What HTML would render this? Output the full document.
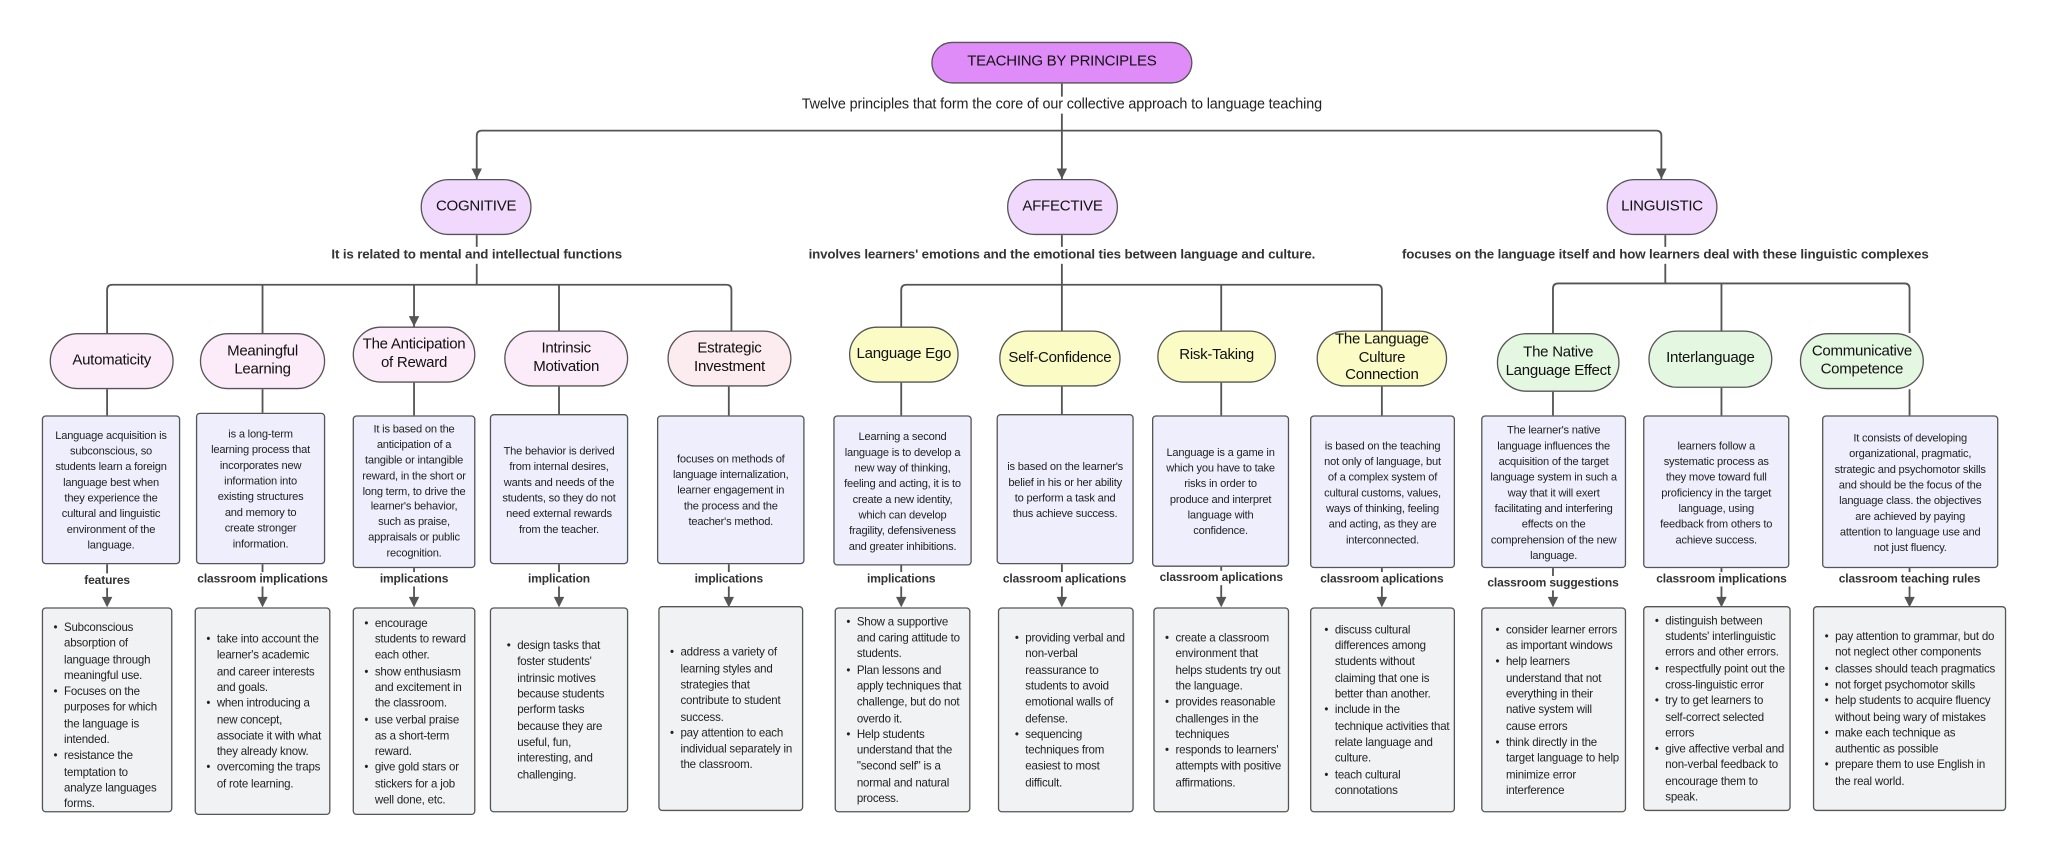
<!DOCTYPE html>
<html><head><meta charset="utf-8">
<style>
html,body{margin:0;padding:0;background:#fff;}
body{width:2048px;height:857px;overflow:hidden;position:relative;font-family:"Liberation Sans",Arial,sans-serif;color:#222;}
#c{position:absolute;left:0;top:0;width:1568px;height:656px;transform:scale(1.30612);transform-origin:0 0;}
.p{position:absolute;box-sizing:border-box;border:1.5px solid #555;border-radius:24px;display:flex;align-items:center;justify-content:center;text-align:center;font-size:11.5px;line-height:13.5px;color:#111;letter-spacing:-0.2px;}
.cog{background:#fcebf8}.aff{background:#fbfbc6}.lin{background:#e4f7e1}.cat{background:#f0d9fc}
.d{position:absolute;box-sizing:border-box;border:1.5px solid #555;border-radius:3px;background:#eeeefc;display:flex;align-items:center;justify-content:center;text-align:center;font-size:8.5px;line-height:12px;padding:0 5px;color:#222;letter-spacing:-0.15px;}
.t{position:absolute;box-sizing:border-box;border:1.5px solid #555;border-radius:3px;background:#f1f2f4;display:flex;align-items:center;font-size:8.8px;line-height:12.3px;padding:0 3px 0 6px;color:#222;letter-spacing:-0.15px;}
.t ul{margin:0;padding:0 0 0 10px;list-style:none;}
.t li{margin:0;padding:0;position:relative;}
.t li:before{content:"•";position:absolute;left:-8px;top:0;}
.l{position:absolute;transform:translateX(-50%);white-space:nowrap;font-size:9.2px;font-weight:bold;color:#333;background:#fff;padding:0 1px;line-height:11px;letter-spacing:-0.1px;}
.s{position:absolute;transform:translateX(-50%);white-space:nowrap;font-size:10.2px;font-weight:bold;color:#333;background:#fff;line-height:13px;padding:0 2px;letter-spacing:-0.1px;}
svg{position:absolute;left:0;top:0;}
</style></head><body>
<div id="c">
<svg width="1568" height="656" viewBox="0 0 1568 656" fill="none" stroke="#555" stroke-width="1.4">
<path d="M813 64V100 M365 137V104Q365 100 369 100H1268Q1272 100 1272 104V137 M813 100V137"/>
<path d="M365 180V218 M813 180V218 M1275 180V217"/>
<path d="M82 255V222Q82 218 86 218H556Q560 218 560 222V253 M201 218V255 M317 218V250 M428 218V253"/>
<path d="M690 250V222Q690 218 694 218H1054Q1058 218 1058 222V253 M813 218V253 M935 218V253"/>
<path d="M1189 255V221Q1189 217 1193 217H1458Q1462 217 1462 221V255 M1318 217V253"/>
<path d="M82 298V318 M201 298V316 M317 293V318 M428 296V317 M558 296V318 M690 293V318 M813 296V317 M935 293V318 M1058 296V318 M1189 300V318 M1318 297V318 M1462 298V318"/>
<path d="M82 432V460 M201 432V460 M317 435V460 M428 432V460 M558 432V460 M690 433V460 M813 432V460 M935 434V460 M1058 435V460 M1189 435V460 M1318 435V460 M1462 435V460"/>
<g fill="#555" stroke="none">
<polygon points="361,129 369,129 365,137"/><polygon points="809,129 817,129 813,137"/><polygon points="1268,129 1276,129 1272,137"/>
<polygon points="313,242 321,242 317,250"/>
<polygon points="78,457 86,457 82,465"/><polygon points="197,457 205,457 201,465"/><polygon points="313,457 321,457 317,465"/><polygon points="424,457 432,457 428,465"/><polygon points="554,457 562,457 558,465"/><polygon points="686,457 694,457 690,465"/><polygon points="809,457 817,457 813,465"/><polygon points="931,457 939,457 935,465"/><polygon points="1054,457 1062,457 1058,465"/><polygon points="1185,457 1193,457 1189,465"/><polygon points="1314,457 1322,457 1318,465"/><polygon points="1458,457 1466,457 1462,465"/>
</g>
</svg>

<div class="p" style="left:713px;top:32px;width:200px;height:32px;background:#df8cf8;font-size:11.5px;">TEACHING BY PRINCIPLES</div>
<div class="s" style="left:813px;top:74px;font-weight:normal;font-size:11px;color:#222;">Twelve principles that form the core of our collective approach to language teaching</div>

<div class="p cat" style="left:322px;top:137px;width:85px;height:43px;">COGNITIVE</div>
<div class="p cat" style="left:771px;top:137px;width:85px;height:43px;">AFFECTIVE</div>
<div class="p cat" style="left:1230px;top:137px;width:85px;height:43px;">LINGUISTIC</div>

<div class="s" style="left:365px;top:189px;">It is related to mental and intellectual functions</div>
<div class="s" style="left:813px;top:189px;">involves learners' emotions and the emotional ties between language and culture.</div>
<div class="s" style="left:1275px;top:189px;">focuses on the language itself and how learners deal with these linguistic complexes</div>

<div class="p cog" style="left:38px;top:255px;width:95px;height:43px;">Automaticity</div>
<div class="p cog" style="left:153px;top:255px;width:96px;height:43px;">Meaningful<br>Learning</div>
<div class="p cog" style="left:270px;top:250px;width:94px;height:43px;">The Anticipation<br>of Reward</div>
<div class="p cog" style="left:386px;top:253px;width:95px;height:43px;">Intrinsic<br>Motivation</div>
<div class="p" style="left:511px;top:253px;width:95px;height:43px;background:#fdecef;">Estrategic<br>Investment</div>
<div class="p aff" style="left:650px;top:250px;width:84px;height:43px;">Language Ego</div>
<div class="p aff" style="left:765px;top:253px;width:93px;height:43px;">Self-Confidence</div>
<div class="p aff" style="left:886px;top:253px;width:91px;height:40px;">Risk-Taking</div>
<div class="p aff" style="left:1008px;top:253px;width:100px;height:43px;">The Language<br>Culture<br>Connection</div>
<div class="p lin" style="left:1146px;top:255px;width:94px;height:45px;">The Native<br>Language Effect</div>
<div class="p lin" style="left:1262px;top:253px;width:95px;height:44px;">Interlanguage</div>
<div class="p lin" style="left:1378px;top:255px;width:95px;height:43px;">Communicative<br>Competence</div>

<div class="d" style="left:32px;top:318px;width:106px;height:114px;padding:0 8px;">Language acquisition is subconscious, so students learn a foreign language best when they experience the cultural and linguistic environment of the language.</div>
<div class="d" style="left:150px;top:316px;width:99px;height:116px;padding:0 9px;">is a long-term learning process that incorporates new information into existing structures and memory to create stronger information.</div>
<div class="d" style="left:270px;top:318px;width:94px;height:117px;line-height:11.8px;">It is based on the anticipation of a tangible or intangible reward, in the short or long term, to drive the learner's behavior, such as praise, appraisals or public recognition.</div>
<div class="d" style="left:375px;top:317px;width:106px;height:115px;">The behavior is derived from internal desires, wants and needs of the students, so they do not need external rewards from the teacher.</div>
<div class="d" style="left:503px;top:318px;width:113px;height:114px;padding:0 8px;">focuses on methods of language internalization, learner engagement in the process and the teacher's method.</div>
<div class="d" style="left:638px;top:318px;width:106px;height:115px;padding:0 7px;">Learning a second language is to develop a new way of thinking, feeling and acting, it is to create a new identity, which can develop fragility, defensiveness and greater inhibitions.</div>
<div class="d" style="left:763px;top:317px;width:105px;height:115px;padding:0 7px;">is based on the learner's belief in his or her ability to perform a task and thus achieve success.</div>
<div class="d" style="left:882px;top:318px;width:105px;height:116px;padding:0 8px;">Language is a game in which you have to take risks in order to produce and interpret language with confidence.</div>
<div class="d" style="left:1003px;top:318px;width:111px;height:117px;padding:0 9px;">is based on the teaching not only of language, but of a complex system of cultural customs, values, ways of thinking, feeling and acting, as they are interconnected.</div>
<div class="d" style="left:1134px;top:318px;width:111px;height:117px;">The learner's native language influences the acquisition of the target language system in such a way that it will exert facilitating and interfering effects on the comprehension of the new language.</div>
<div class="d" style="left:1258px;top:318px;width:112px;height:117px;padding:0 9px;">learners follow a systematic process as they move toward full proficiency in the target language, using feedback from others to achieve success.</div>
<div class="d" style="left:1395px;top:318px;width:135px;height:117px;padding:0 8px;">It consists of developing organizational, pragmatic, strategic and psychomotor skills and should be the focus of the language class. the objectives are achieved by paying attention to language use and not just fluency.</div>

<div class="l" style="left:82px;top:439px;">features</div>
<div class="l" style="left:201px;top:438px;">classroom implications</div>
<div class="l" style="left:317px;top:438px;">implications</div>
<div class="l" style="left:428px;top:438px;">implication</div>
<div class="l" style="left:558px;top:438px;">implications</div>
<div class="l" style="left:690px;top:438px;">implications</div>
<div class="l" style="left:815px;top:438px;">classroom aplications</div>
<div class="l" style="left:935px;top:437px;">classroom aplications</div>
<div class="l" style="left:1058px;top:438px;">classroom aplications</div>
<div class="l" style="left:1189px;top:441px;">classroom suggestions</div>
<div class="l" style="left:1318px;top:438px;">classroom implications</div>
<div class="l" style="left:1462px;top:438px;">classroom teaching rules</div>

<div class="t" style="left:32px;top:465px;width:100px;height:157px;align-items:flex-start;padding-top:8px;"><ul><li>Subconscious absorption of language through meaningful use.</li><li>Focuses on the purposes for which the language is intended.</li><li>resistance the temptation to analyze languages forms.</li></ul></div>
<div class="t" style="left:149px;top:465px;width:104px;height:159px;"><ul><li>take into account the learner's academic and career interests and goals.</li><li>when introducing a new concept, associate it with what they already know.</li><li>overcoming the traps of rote learning.</li></ul></div>
<div class="t" style="left:270px;top:465px;width:94px;height:159px;"><ul><li>encourage students to reward each other.</li><li>show enthusiasm and excitement in the classroom.</li><li>use verbal praise as a short-term reward.</li><li>give gold stars or stickers for a job well done, etc.</li></ul></div>
<div class="t" style="left:375px;top:465px;width:106px;height:157px;padding-left:10px;"><ul><li>design tasks that foster students' intrinsic motives because students perform tasks because they are useful, fun, interesting, and challenging.</li></ul></div>
<div class="t" style="left:504px;top:464px;width:111px;height:157px;"><ul><li>address a variety of learning styles and strategies that contribute to student success.</li><li>pay attention to each individual separately in the classroom.</li></ul></div>
<div class="t" style="left:639px;top:465px;width:104px;height:157px;"><ul><li>Show a supportive and caring attitude to students.</li><li>Plan lessons and apply techniques that challenge, but do not overdo it.</li><li>Help students understand that the "second self" is a normal and natural process.</li></ul></div>
<div class="t" style="left:764px;top:465px;width:104px;height:157px;padding-left:10px;"><ul><li>providing verbal and non-verbal reassurance to students to avoid emotional walls of defense.</li><li>sequencing techniques from easiest to most difficult.</li></ul></div>
<div class="t" style="left:883px;top:465px;width:104px;height:157px;"><ul><li>create a classroom environment that helps students try out the language.</li><li>provides reasonable challenges in the techniques</li><li>responds to learners' attempts with positive affirmations.</li></ul></div>
<div class="t" style="left:1003px;top:465px;width:111px;height:157px;padding-left:8px;"><ul><li>discuss cultural differences among students without claiming that one is better than another.</li><li>include in the technique activities that relate language and culture.</li><li>teach cultural connotations</li></ul></div>
<div class="t" style="left:1134px;top:465px;width:111px;height:157px;padding-left:8px;"><ul><li>consider learner errors as important windows</li><li>help learners understand that not everything in their native system will cause errors</li><li>think directly in the target language to help minimize error interference</li></ul></div>
<div class="t" style="left:1258px;top:464px;width:113px;height:157px;"><ul><li>distinguish between students' interlinguistic errors and other errors.</li><li>respectfully point out the cross-linguistic error</li><li>try to get learners to self-correct selected errors</li><li>give affective verbal and non-verbal feedback to encourage them to speak.</li></ul></div>
<div class="t" style="left:1388px;top:464px;width:148px;height:157px;"><ul><li>pay attention to grammar, but do not neglect other components</li><li>classes should teach pragmatics</li><li>not forget psychomotor skills</li><li>help students to acquire fluency without being wary of mistakes</li><li>make each technique as authentic as possible</li><li>prepare them to use English in the real world.</li></ul></div>
</div>
</body></html>
